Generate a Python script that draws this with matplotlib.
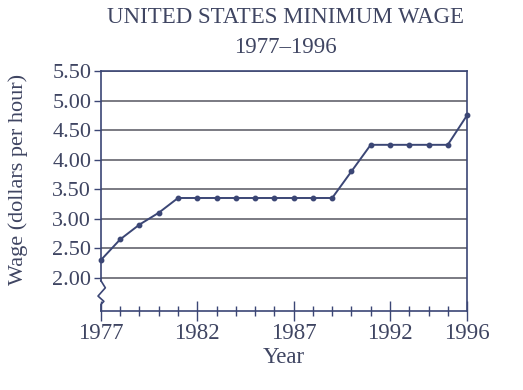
#!/usr/bin/env python3
"""
United States minimum wage 1977-1996, textbook style line chart
"""

import matplotlib
matplotlib.use('Agg')
import matplotlib.pyplot as plt
import matplotlib.transforms as mtransforms

# data
years = [1977, 1978, 1979, 1980, 1981, 1982, 1983, 1984, 1985, 1986,
         1987, 1988, 1989, 1990, 1991, 1992, 1993, 1994, 1995, 1996]
wages = [2.30, 2.65, 2.90, 3.10, 3.35, 3.35, 3.35, 3.35, 3.35, 3.35,
         3.35, 3.35, 3.35, 3.80, 4.25, 4.25, 4.25, 4.25, 4.25, 4.75]
y_ticks = [2.00, 2.50, 3.00, 3.50, 4.00, 4.50, 5.00, 5.50]
x_labels = [1977, 1982, 1987, 1992, 1996]

ink = '#3b4675'
text_col = '#3f4562'
grid_col = '#707078'

plt.rcParams['font.family'] = ['Liberation Serif', 'DejaVu Serif']

fig = plt.figure(figsize=(5.23, 3.9), dpi=100)
ax = fig.add_axes([0.193, 0.203, 0.700, 0.615])

# gridlines
for v in y_ticks:
    ax.axhline(v, color=grid_col, linewidth=1.3, zorder=1)

ax.plot(years, wages, color=ink, linewidth=1.4, marker='o', markersize=3.2,
        zorder=3, clip_on=False)

ax.set_xlim(1977, 1996)
ax.set_ylim(1.44, 5.5)

ax.set_yticks(y_ticks)
ax.set_yticklabels([f'{v:.2f}' for v in y_ticks])
ax.set_xticks(x_labels)
ax.set_xticklabels([str(y) for y in x_labels])
ax.set_xticks(years, minor=True)

ax.tick_params(axis='y', which='major', length=5, width=1, color=ink,
               labelsize=16, labelcolor=text_col, pad=2)
ax.tick_params(axis='x', which='major', direction='inout', length=14, width=1,
               color=ink, labelsize=16.5, labelcolor=text_col, pad=2)
ax.tick_params(axis='x', which='minor', direction='inout', length=7, width=1,
               color=ink)

for side in ['top', 'right', 'bottom']:
    ax.spines[side].set_color(ink)
    ax.spines[side].set_linewidth(1.2)
ax.spines['left'].set_visible(False)

# left axis with a break squiggle near the bottom
trans = mtransforms.blended_transform_factory(ax.transAxes, ax.transData)
ax.plot([0, 0], [5.5, 1.95], color=ink, linewidth=1.2, transform=trans,
        clip_on=False, zorder=4)
ax.plot([0, 0.012, -0.008, 0.008, 0, 0],
        [1.95, 1.83, 1.69, 1.60, 1.55, 1.44],
        color=ink, linewidth=1.2, transform=trans, clip_on=False, zorder=4)

ax.set_xlabel('Year', fontsize=16.5, color=text_col, labelpad=2)
ax.set_ylabel('Wage (dollars per hour)', fontsize=16, color=text_col)
ax.yaxis.set_label_coords(-0.198, 0.546)

fig.text(0.545, 0.955, 'UNITED STATES MINIMUM WAGE', ha='center', va='center',
         fontsize=16.5, color=text_col)
fig.text(0.545, 0.878, '1977\u20131996', ha='center', va='center',
         fontsize=16.5, color=text_col)

plt.savefig('out.png', dpi=100)
